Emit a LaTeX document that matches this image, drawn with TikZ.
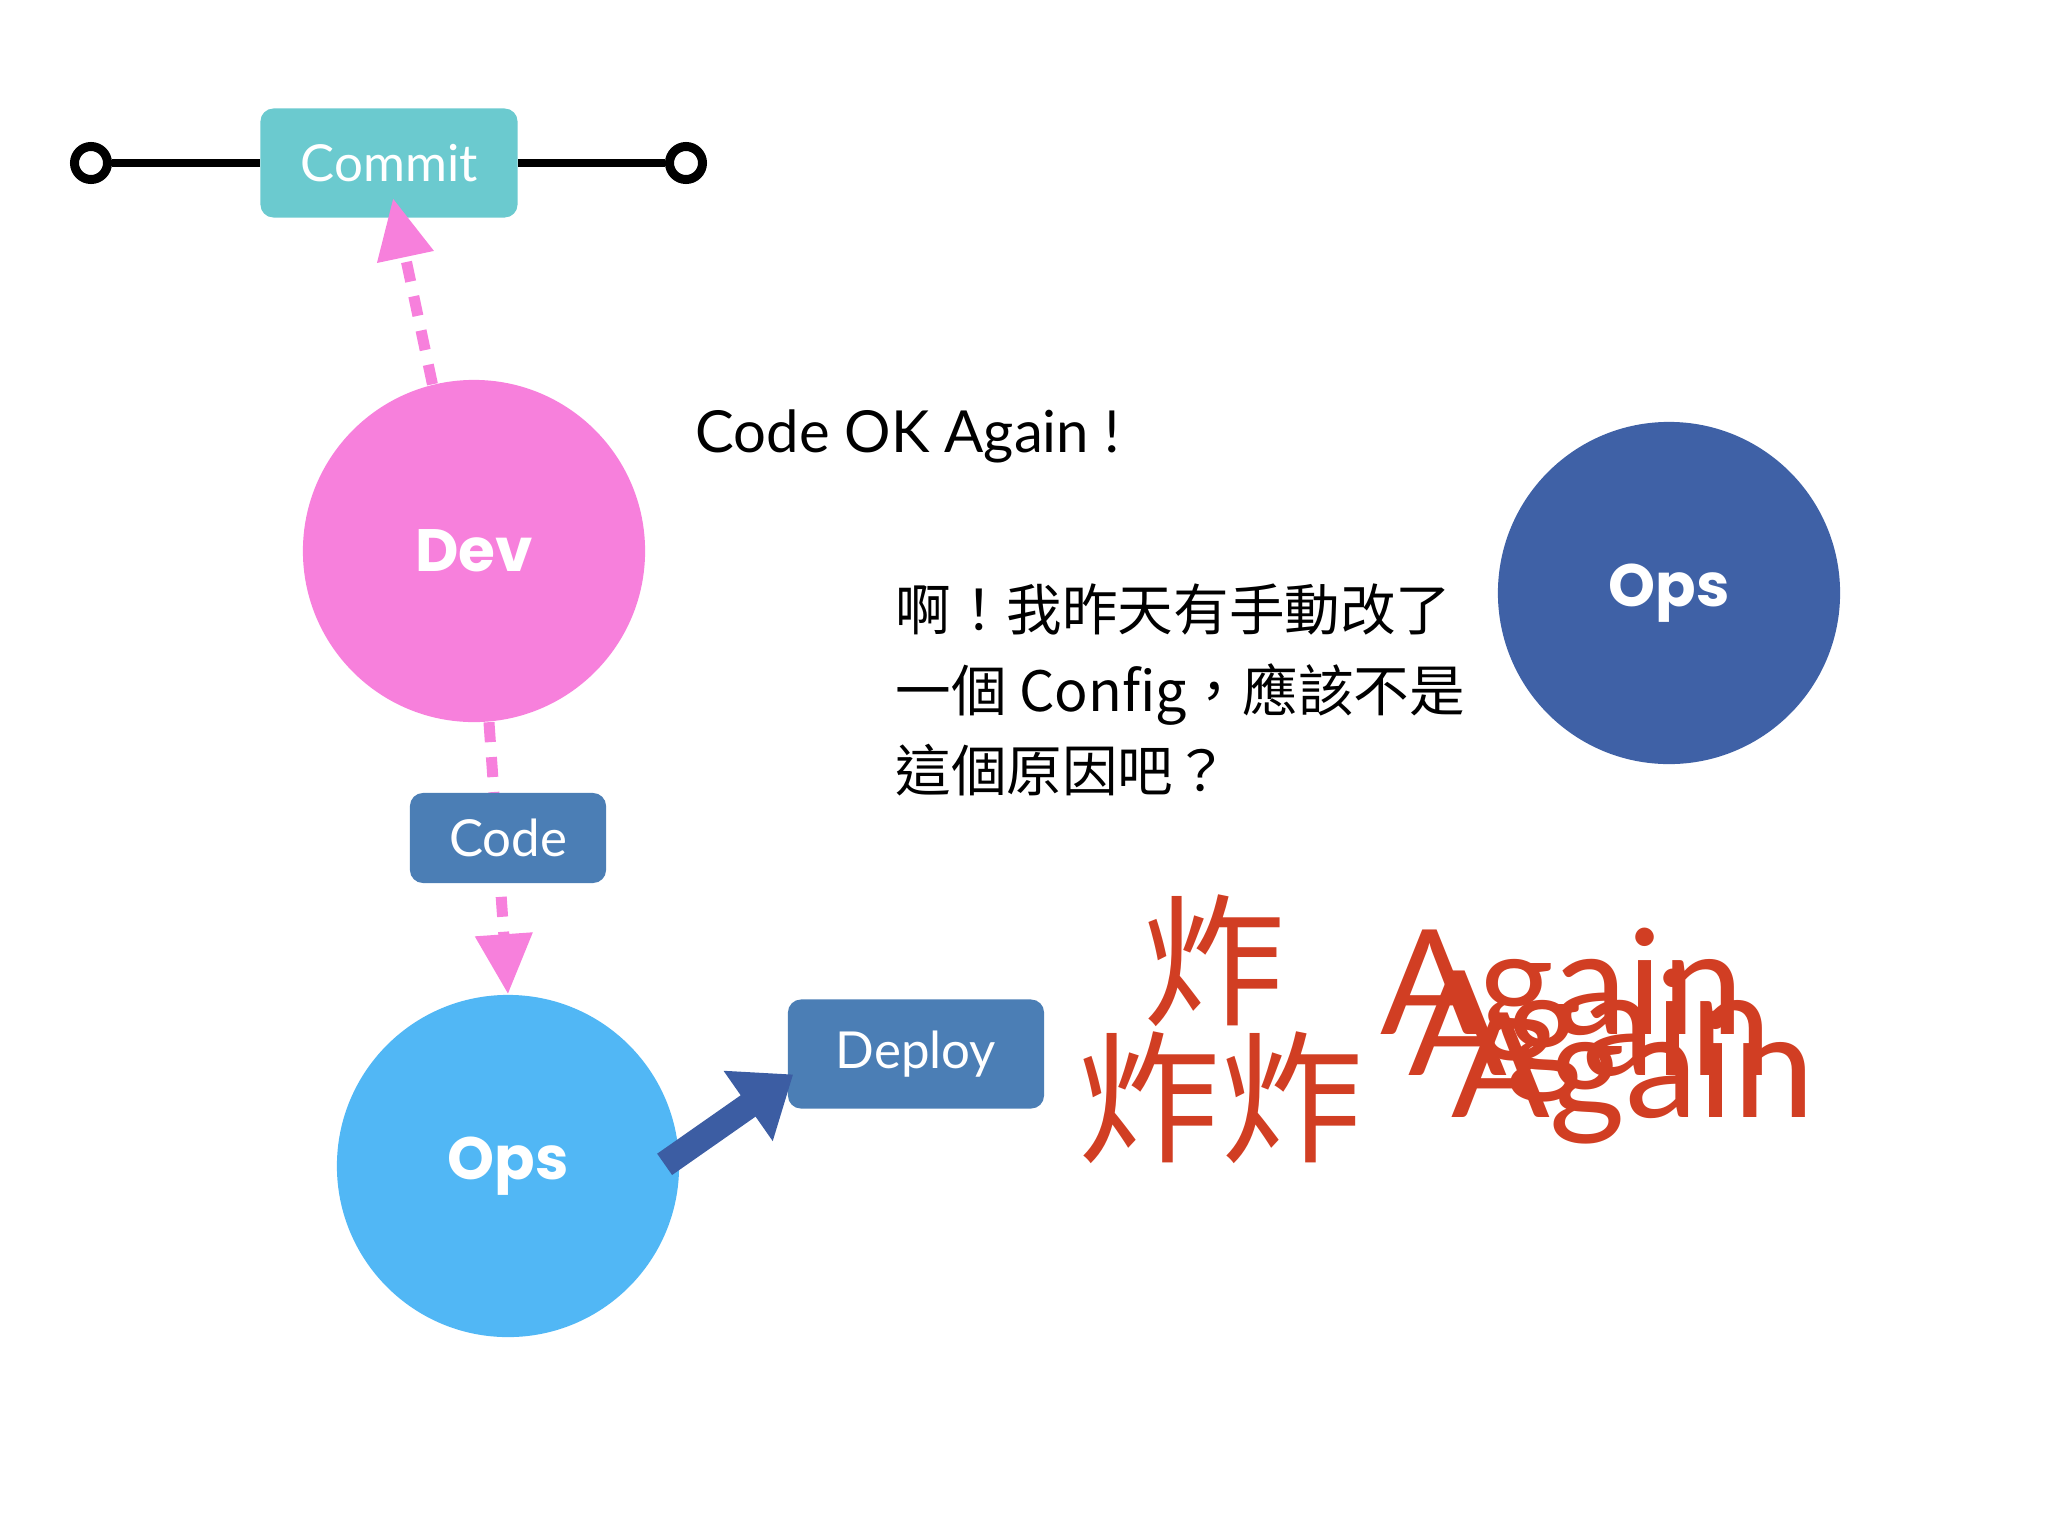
\documentclass[tikz,border=0pt]{standalone}
\usepackage{fontspec}
\setmainfont{Lato}
\newfontfamily\cjk{Noto Sans CJK TC}
\newfontfamily\heavy{Poppins}
\usetikzlibrary{arrows.meta,shapes}

\definecolor{committeal}{RGB}{107,202,207}
\definecolor{devpink}{RGB}{247,128,220}
\definecolor{boxblue}{RGB}{75,126,181}
\definecolor{opslight}{RGB}{81,183,245}
\definecolor{opsdark}{RGB}{63,97,166}
\definecolor{arrowblue}{RGB}{60,93,163}
\definecolor{boomred}{RGB}{209,62,35}

\tikzset{
  ring/.style={circle,draw=black,fill=white,line width=0.09cm,minimum size=0.33cm,inner sep=0pt},
  railline/.style={draw=black,line width=0.08cm},
  labelbox/.style={rectangle,rounded corners=0.13cm,text=white,inner sep=0pt,font=\fontsize{14.5}{17}\selectfont},
  bubble/.style={circle,minimum size=3.42cm,inner sep=0pt,text=white,font=\heavy\bfseries\fontsize{17}{20}\selectfont},
  devflow/.style={draw=devpink,line width=0.11cm,dash pattern=on 0.2cm off 0.15cm,-{Triangle[width=0.55cm,length=0.6cm]}},
  deployflow/.style={draw=arrowblue,line width=0.26cm,-{Triangle[width=0.82cm,length=0.55cm]}},
  boom/.style={text=boomred,inner sep=0pt,font=\cjk\fontsize{40.5}{46}\selectfont},
  again/.style={text=boomred,inner sep=0pt,anchor=base,font=\fontsize{41.5}{46}\selectfont}
}

\begin{document}
\begin{tikzpicture}[x=0.01cm,y=-0.01cm]
\useasboundingbox (0,0) rectangle (2048,1536);

% commit rail
\node (ringL) at (91,163) [ring] {};
\node (ringR) at (686,163) [ring] {};
\node (Commit) at (389,163) [labelbox,fill=committeal,minimum width=2.57cm,minimum height=1.09cm] {Commit};
\draw [railline] (ringL) -- (Commit) -- (ringR);

% people
\node (Dev) at (474,551) [bubble,fill=devpink] {Dev};
\node (OpsA) at (508,1166) [bubble,fill=opslight] {Ops};
\node (OpsB) at (1669,593) [bubble,fill=opsdark] {Ops};

\draw [devflow] (Dev.104) -- ([xshift=0.04cm,yshift=0.2cm]Commit.south);
\draw [devflow] (Dev.-85) -- (OpsA.north);

\node (Code) at (508,838) [labelbox,fill=boxblue,minimum width=1.96cm,minimum height=0.9cm] {Code};
\node (Deploy) at (916,1054) [labelbox,fill=boxblue,minimum width=2.56cm,minimum height=1.09cm] {Deploy};
\draw [deployflow,shorten <=-0.18cm] (OpsA.4) -- ([xshift=0.06cm]Deploy.189);

% talk
\node (okmsg) at (695,452) [anchor=base west,inner sep=0pt,font=\fontsize{16.5}{20}\selectfont] {Code OK Again !};
\node (opsmsg) at (895,690) [anchor=west,align=left,inner sep=0pt,font=\cjk\fontsize{15.8}{22.8}\selectfont]
  {啊！我昨天有手動改了\\一個 Config，應該不是\\這個原因吧？};

% boom
\node (boomA) at (1215,961) [boom] {炸};
\node (boomB) at (1221,1098) [boom] {炸炸};
\node (againA) at (1562,1034) [again] {Again};
\node (againB) at (1590,1075) [again] {Again};
\node (againC) at (1633,1117) [again] {Again};
\end{tikzpicture}
\end{document}
